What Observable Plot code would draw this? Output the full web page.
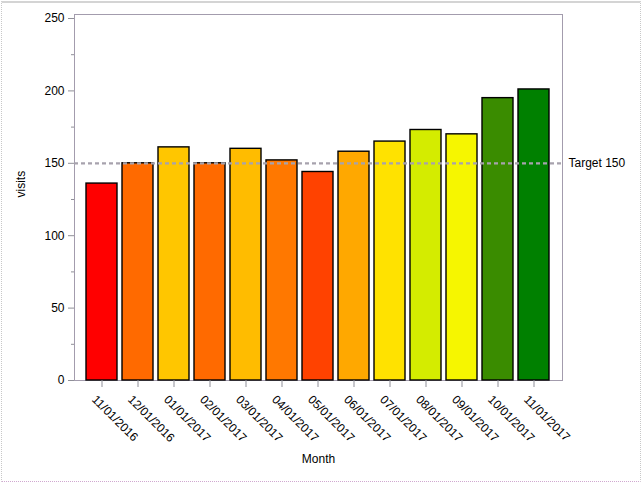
<!DOCTYPE html>
<html>
<head>
<meta charset="utf-8">
<script src="https://cdn.jsdelivr.net/npm/d3@7"></script>
<script src="https://cdn.jsdelivr.net/npm/@observablehq/plot@0.6"></script>
<style>
  html, body { margin: 0; padding: 0; background: #fff; }
  #wrap { position: relative; width: 644px; height: 484px; }
  #border { position: absolute; left: 1px; top: 1px; width: 638px; height: 478px;
    border-top: 2px solid #d4d4d4; border-left: 1px dotted #c8c8c8; border-right: 1px dotted #c8c8c8;
    border-bottom: 1px dotted #d0a8d0; box-sizing: content-box; pointer-events: none; }
  svg { position: absolute; left: 0; top: 0; }
</style>
</head>
<body>
<div id="wrap"><div id="border"></div></div>
<script>
const months = ["11/01/2016","12/01/2016","01/01/2017","02/01/2017","03/01/2017","04/01/2017","05/01/2017","06/01/2017","07/01/2017","08/01/2017","09/01/2017","10/01/2017","11/01/2017"];
const visits = [136, 150, 161, 150, 160, 152, 144, 158, 165, 173, 170, 195, 201];
const colors = ["#ff0000","#ff6a00","#ffc600","#ff6a00","#ffbc00","#ff7800","#ff4200","#ffa800","#ffe200","#d4ec00","#f6f600","#3a8c00","#008000"];
const yMajor = [0, 50, 100, 150, 200, 250];
const yMinor = [25, 75, 125, 175, 225];
const target = [150];
const targetLabel = ["Target 150"];
const xTitle = ["Month"];
const yTitle = ["visits"];

const data = months.map((m, i) => ({month: m, visits: visits[i], color: colors[i]}));
const axisColor = "#8f8f98";

const chart = Plot.plot({
  width: 644,
  height: 484,
  marginLeft: 74,
  marginRight: 82,
  marginTop: 14,
  marginBottom: 104,
  style: {fontFamily: "'Liberation Sans', Arial, sans-serif", fontSize: "12px", color: "#000", background: "transparent"},
  x: {domain: months, paddingInner: 0.127, paddingOuter: 0.218},
  y: {domain: [0, 252.76]},
  marks: [
    Plot.frame({stroke: "#a39cad"}),
    Plot.barY(data, {x: "month", y: "visits", fill: "color", stroke: "#000", strokeWidth: 1.4}),
    Plot.ruleY(target, {stroke: "#a7a2ad", strokeWidth: 2.2, strokeDasharray: "4,3"}),
    Plot.text(target, {y: d => d, text: () => targetLabel[0], frameAnchor: "right", textAnchor: "start", dx: 6, fill: "#000", fontSize: 12}),
    Plot.axisY({ticks: yMajor, tickSize: 6, tickPadding: 4, stroke: axisColor, fill: "#000", label: null, fontSize: 12}),
    Plot.axisY({ticks: yMinor, tickSize: 3, text: null, stroke: axisColor, label: null}),
    Plot.axisX({text: null, tickSize: 7, stroke: axisColor, label: null}),
    Plot.axisX({tickRotate: 45, tickSize: 7, tickPadding: 4, stroke: "none", fill: "#000", label: null, fontSize: 12, dx: -8, dy: 6}),
    Plot.text(xTitle, {text: d => d, frameAnchor: "bottom", dy: 82, fill: "#000", fontSize: 12}),
    Plot.text(yTitle, {text: d => d, frameAnchor: "left", dx: -53, rotate: -90, fill: "#000", fontSize: 12})
  ]
});
document.getElementById("wrap").appendChild(chart);
</script>
</body>
</html>
